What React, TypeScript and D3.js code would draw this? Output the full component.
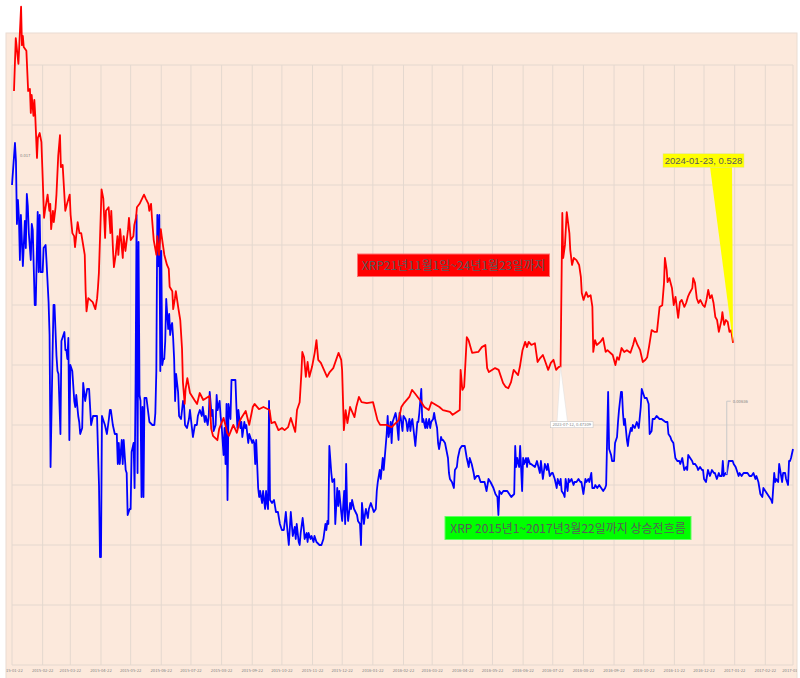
import React from "react";
import * as d3 from "d3";

const tickLabels = [
  "2015-01-22","2015-02-22","2015-03-22","2015-04-22","2015-05-22","2015-06-22","2015-07-22","2015-08-22","2015-09-22",
  "2015-10-22","2015-11-22","2015-12-22","2016-01-22","2016-02-22","2016-03-22","2016-04-22","2016-05-22","2016-06-22",
  "2016-07-22","2016-08-22","2016-09-22","2016-10-22","2016-11-22","2016-12-22","2017-01-22","2017-02-22","2017-03-22",
];

// XRP 2021-11-01 ~ 2024-01-23 (USD)
const redSeries: [string, number][] = [
  ["2021-11-01",1.104],["2021-11-03",1.225],["2021-11-06",1.166],["2021-11-09",1.297],["2021-11-10",1.209],["2021-11-11",1.230],
  ["2021-11-12",1.205],["2021-11-15",1.196],["2021-11-17",1.104],["2021-11-19",1.109],["2021-11-20",1.054],["2021-11-21",1.095],
  ["2021-11-23",1.047],["2021-11-24",1.084],["2021-11-25",1.049],["2021-11-27",0.951],["2021-11-28",0.997],["2021-11-30",1.008],
  ["2021-12-02",0.987],["2021-12-03",0.930],["2021-12-05",0.814],["2021-12-06",0.830],["2021-12-09",0.867],["2021-12-11",0.830],
  ["2021-12-12",0.846],["2021-12-13",0.788],["2021-12-15",0.830],["2021-12-16",0.804],["2021-12-18",0.838],["2021-12-19",0.867],
  ["2021-12-21",0.955],["2021-12-23",1.003],["2021-12-24",0.930],["2021-12-26",0.935],["2021-12-29",0.830],["2021-12-31",0.846],
  ["2022-01-03",0.867],["2022-01-04",0.821],["2022-01-06",0.779],["2022-01-08",0.772],["2022-01-09",0.747],["2022-01-12",0.804],
  ["2022-01-14",0.779],["2022-01-16",0.779],["2022-01-18",0.754],["2022-01-20",0.729],["2022-01-21",0.646],["2022-01-22",0.600],
  ["2022-01-24",0.630],["2022-01-29",0.621],["2022-02-01",0.605],["2022-02-03",0.630],["2022-02-04",0.656],["2022-02-05",0.688],
  ["2022-02-07",0.814],["2022-02-08",0.879],["2022-02-10",0.858],["2022-02-12",0.768],["2022-02-13",0.830],["2022-02-16",0.838],
  ["2022-02-18",0.779],["2022-02-19",0.830],["2022-02-21",0.738],["2022-02-22",0.701],["2022-02-24",0.729],["2022-02-26",0.772],
  ["2022-02-27",0.729],["2022-03-01",0.788],["2022-03-04",0.722],["2022-03-05",0.772],["2022-03-07",0.738],["2022-03-10",0.788],
  ["2022-03-11",0.814],["2022-03-13",0.763],["2022-03-16",0.772],["2022-03-17",0.797],["2022-03-19",0.814],["2022-03-20",0.838],
  ["2022-03-23",0.846],["2022-03-28",0.867],["2022-03-30",0.858],["2022-04-02",0.846],["2022-04-03",0.830],["2022-04-05",0.846],
  ["2022-04-06",0.814],["2022-04-08",0.763],["2022-04-11",0.729],["2022-04-12",0.772],["2022-04-14",0.729],["2022-04-16",0.788],
  ["2022-04-17",0.772],["2022-04-20",0.729],["2022-04-23",0.706],["2022-04-25",0.697],["2022-04-26",0.656],["2022-04-29",0.646],
  ["2022-04-30",0.605],["2022-05-02",0.630],["2022-05-03",0.646],["2022-05-06",0.605],["2022-05-08",0.580],["2022-05-10",0.514],
  ["2022-05-11",0.438],["2022-05-13",0.388],["2022-05-14",0.422],["2022-05-16",0.447],["2022-05-19",0.413],["2022-05-24",0.397],
  ["2022-05-27",0.388],["2022-05-30",0.413],["2022-06-03",0.397],["2022-06-10",0.406],["2022-06-12",0.331],["2022-06-14",0.315],
  ["2022-06-19",0.305],["2022-06-21",0.331],["2022-06-26",0.356],["2022-06-28",0.340],["2022-06-30",0.322],["2022-07-02",0.315],
  ["2022-07-07",0.340],["2022-07-11",0.322],["2022-07-14",0.347],["2022-07-16",0.356],["2022-07-21",0.372],["2022-07-25",0.340],
  ["2022-07-29",0.381],["2022-07-31",0.388],["2022-08-05",0.376],["2022-08-10",0.381],["2022-08-17",0.374],["2022-08-19",0.344],
  ["2022-08-23",0.347],["2022-08-27",0.328],["2022-08-31",0.333],["2022-09-03",0.328],["2022-09-07",0.335],["2022-09-10",0.356],
  ["2022-09-15",0.324],["2022-09-17",0.374],["2022-09-20",0.392],["2022-09-22",0.459],["2022-09-23",0.507],["2022-09-25",0.495],
  ["2022-09-27",0.450],["2022-09-29",0.484],["2022-10-01",0.450],["2022-10-04",0.473],["2022-10-07",0.505],["2022-10-09",0.534],
  ["2022-10-11",0.489],["2022-10-14",0.482],["2022-10-21",0.450],["2022-10-24",0.461],["2022-10-28",0.470],["2022-11-03",0.505],
  ["2022-11-06",0.489],["2022-11-07",0.466],["2022-11-09",0.328],["2022-11-11",0.374],["2022-11-13",0.344],["2022-11-16",0.381],
  ["2022-11-21",0.358],["2022-11-23",0.381],["2022-11-26",0.404],["2022-11-29",0.392],["2022-12-05",0.390],["2022-12-12",0.392],
  ["2022-12-17",0.351],["2022-12-20",0.340],["2022-12-27",0.340],["2023-01-02",0.335],["2023-01-10",0.351],["2023-01-13",0.381],
  ["2023-01-16",0.390],["2023-01-22",0.404],["2023-01-25",0.420],["2023-01-28",0.413],["2023-02-03",0.397],["2023-02-08",0.381],
  ["2023-02-13",0.374],["2023-02-16",0.392],["2023-02-25",0.381],["2023-03-01",0.374],["2023-03-09",0.370],["2023-03-12",0.363],
  ["2023-03-20",0.374],["2023-03-21",0.466],["2023-03-23",0.420],["2023-03-25",0.427],["2023-03-28",0.541],["2023-03-30",0.534],
  ["2023-04-03",0.505],["2023-04-10",0.507],["2023-04-14",0.518],["2023-04-18",0.523],["2023-04-20",0.470],["2023-04-22",0.461],
  ["2023-04-29",0.470],["2023-05-03",0.466],["2023-05-08",0.436],["2023-05-11",0.427],["2023-05-14",0.424],["2023-05-17",0.438],
  ["2023-05-20",0.466],["2023-05-25",0.454],["2023-05-27",0.473],["2023-05-30",0.511],["2023-06-02",0.530],["2023-06-04",0.518],
  ["2023-06-06",0.530],["2023-06-09",0.523],["2023-06-13",0.527],["2023-06-16",0.484],["2023-06-19",0.493],["2023-06-22",0.500],
  ["2023-06-24",0.489],["2023-06-28",0.466],["2023-07-01",0.482],["2023-07-04",0.489],["2023-07-07",0.466],["2023-07-10",0.473],
  ["2023-07-12",0.47309],["2023-07-14",0.825],["2023-07-15",0.722],["2023-07-17",0.752],["2023-07-19",0.827],["2023-07-22",0.779],
  ["2023-07-23",0.740],["2023-07-25",0.706],["2023-07-27",0.722],["2023-07-30",0.717],["2023-08-02",0.706],["2023-08-04",0.678],
  ["2023-08-05",0.642],["2023-08-07",0.626],["2023-08-10",0.644],["2023-08-12",0.633],["2023-08-15",0.637],["2023-08-17",0.610],
  ["2023-08-18",0.507],["2023-08-20",0.534],["2023-08-22",0.523],["2023-08-26",0.530],["2023-08-29",0.539],["2023-09-01",0.507],
  ["2023-09-03",0.511],["2023-09-09",0.500],["2023-09-12",0.477],["2023-09-14",0.495],["2023-09-16",0.489],["2023-09-19",0.516],
  ["2023-09-22",0.507],["2023-09-25",0.511],["2023-09-29",0.505],["2023-10-02",0.523],["2023-10-04",0.539],["2023-10-07",0.523],
  ["2023-10-10",0.511],["2023-10-13",0.484],["2023-10-16",0.489],["2023-10-18",0.495],["2023-10-20",0.518],["2023-10-23",0.557],
  ["2023-10-26",0.553],["2023-10-29",0.553],["2023-11-01",0.610],["2023-11-04",0.614],["2023-11-06",0.665],["2023-11-07",0.722],
  ["2023-11-09",0.695],["2023-11-10",0.667],["2023-11-12",0.676],["2023-11-15",0.653],["2023-11-17",0.614],["2023-11-19",0.633],
  ["2023-11-22",0.585],["2023-11-24",0.621],["2023-11-26",0.626],["2023-11-29",0.610],["2023-12-01",0.619],["2023-12-03",0.633],
  ["2023-12-05",0.642],["2023-12-08",0.653],["2023-12-09",0.676],["2023-12-11",0.665],["2023-12-13",0.630],["2023-12-15",0.619],
  ["2023-12-17",0.626],["2023-12-20",0.614],["2023-12-22",0.610],["2023-12-24",0.626],["2023-12-26",0.649],["2023-12-28",0.630],
  ["2023-12-30",0.637],["2024-01-01",0.619],["2024-01-03",0.587],["2024-01-05",0.580],["2024-01-07",0.553],["2024-01-10",0.580],
  ["2024-01-11",0.598],["2024-01-13",0.569],["2024-01-15",0.580],["2024-01-17",0.576],["2024-01-19",0.553],["2024-01-21",0.557],
  ["2024-01-23",0.528],
];

// XRP 2015-01-22 ~ 2017-03-22 (USD)
const blueSeries: [string, number][] = [
  ["2015-01-22",0.0160],["2015-01-25",0.0174],["2015-01-26",0.0168],["2015-01-27",0.0147],["2015-01-28",0.0155],["2015-01-29",0.0149],
  ["2015-01-30",0.0135],["2015-01-31",0.0150],["2015-02-02",0.0133],["2015-02-04",0.0148],["2015-02-05",0.0139],["2015-02-06",0.0157],
  ["2015-02-07",0.0153],["2015-02-08",0.0144],["2015-02-10",0.0135],["2015-02-11",0.0147],["2015-02-12",0.0145],["2015-02-14",0.0120],
  ["2015-02-15",0.0120],["2015-02-17",0.0151],["2015-02-18",0.0131],["2015-02-19",0.0150],["2015-02-20",0.0131],["2015-02-22",0.0131],
  ["2015-02-23",0.0139],["2015-02-25",0.0140],["2015-02-26",0.0134],["2015-02-28",0.0121],["2015-03-01",0.0110],["2015-03-02",0.0066],
  ["2015-03-04",0.0103],["2015-03-05",0.0120],["2015-03-06",0.0120],["2015-03-08",0.0103],["2015-03-09",0.0098],["2015-03-10",0.0097],
  ["2015-03-12",0.0077],["2015-03-13",0.0108],["2015-03-14",0.0109],["2015-03-16",0.0111],["2015-03-17",0.0105],["2015-03-18",0.0105],
  ["2015-03-19",0.0102],["2015-03-20",0.0109],["2015-03-21",0.0075],["2015-03-22",0.0100],["2015-03-23",0.0099],["2015-03-24",0.0098],
  ["2015-03-26",0.0088],["2015-03-27",0.0086],["2015-03-28",0.0090],["2015-03-30",0.0083],["2015-03-31",0.0081],["2015-04-01",0.0077],
  ["2015-04-03",0.0079],["2015-04-04",0.0094],["2015-04-06",0.0088],["2015-04-07",0.0090],["2015-04-08",0.0092],["2015-04-10",0.0092],
  ["2015-04-12",0.0080],["2015-04-14",0.0083],["2015-04-18",0.0083],["2015-04-20",0.0060],["2015-04-21",0.0036],["2015-04-22",0.0036],
  ["2015-04-23",0.0083],["2015-04-24",0.0082],["2015-04-26",0.0080],["2015-04-28",0.0077],["2015-04-30",0.0082],["2015-05-01",0.0085],
  ["2015-05-02",0.0085],["2015-05-04",0.0080],["2015-05-06",0.0077],["2015-05-08",0.0077],["2015-05-09",0.0067],["2015-05-10",0.0074],
  ["2015-05-11",0.0067],["2015-05-13",0.0075],["2015-05-14",0.0067],["2015-05-15",0.0075],["2015-05-17",0.0065],["2015-05-18",0.0064],
  ["2015-05-19",0.0050],["2015-05-21",0.0052],["2015-05-22",0.0052],["2015-05-23",0.0071],["2015-05-25",0.0074],["2015-05-26",0.0059],
  ["2015-05-27",0.0094],["2015-05-28",0.0150],["2015-05-29",0.0064],["2015-05-30",0.0141],["2015-05-31",0.0090],["2015-06-01",0.0088],
  ["2015-06-02",0.0056],["2015-06-03",0.0086],["2015-06-04",0.0056],["2015-06-05",0.0089],["2015-06-07",0.0089],["2015-06-10",0.0081],
  ["2015-06-13",0.0080],["2015-06-15",0.0080],["2015-06-16",0.0084],["2015-06-17",0.0098],["2015-06-18",0.0150],["2015-06-19",0.0133],
  ["2015-06-20",0.0150],["2015-06-21",0.0098],["2015-06-22",0.0138],["2015-06-23",0.0100],["2015-06-24",0.0102],["2015-06-25",0.0102],
  ["2015-06-26",0.0108],["2015-06-27",0.0122],["2015-06-28",0.0117],["2015-06-29",0.0112],["2015-06-30",0.0117],["2015-07-01",0.0110],
  ["2015-07-02",0.0113],["2015-07-03",0.0114],["2015-07-04",0.0109],["2015-07-05",0.0102],["2015-07-06",0.0088],["2015-07-07",0.0097],
  ["2015-07-09",0.0091],["2015-07-10",0.0083],["2015-07-12",0.0082],["2015-07-14",0.0088],["2015-07-15",0.0087],["2015-07-16",0.0080],
  ["2015-07-18",0.0079],["2015-07-20",0.0082],["2015-07-21",0.0085],["2015-07-23",0.0079],["2015-07-24",0.0076],["2015-07-26",0.0080],
  ["2015-07-28",0.0080],["2015-07-29",0.0083],["2015-07-31",0.0085],["2015-08-02",0.0083],["2015-08-03",0.0086],["2015-08-05",0.0081],
  ["2015-08-06",0.0083],["2015-08-08",0.0080],["2015-08-09",0.0083],["2015-08-10",0.0091],["2015-08-12",0.0083],["2015-08-13",0.0085],
  ["2015-08-14",0.0078],["2015-08-16",0.0080],["2015-08-17",0.0090],["2015-08-18",0.0085],["2015-08-20",0.0088],["2015-08-21",0.0083],
  ["2015-08-22",0.0080],["2015-08-24",0.0070],["2015-08-25",0.0079],["2015-08-26",0.0067],["2015-08-27",0.0087],["2015-08-28",0.0055],
  ["2015-08-29",0.0087],["2015-08-31",0.0082],["2015-09-01",0.0095],["2015-09-05",0.0095],["2015-09-06",0.0086],["2015-09-07",0.0079],
  ["2015-09-08",0.0085],["2015-09-10",0.0079],["2015-09-11",0.0081],["2015-09-12",0.0076],["2015-09-14",0.0081],["2015-09-15",0.0079],
  ["2015-09-16",0.0080],["2015-09-18",0.0074],["2015-09-19",0.0077],["2015-09-20",0.0076],["2015-09-22",0.0074],["2015-09-23",0.0075],
  ["2015-09-24",0.0074],["2015-09-25",0.0067],["2015-09-26",0.0075],["2015-09-28",0.0059],["2015-09-29",0.0056],["2015-09-30",0.0058],
  ["2015-10-02",0.0054],["2015-10-03",0.0058],["2015-10-05",0.0052],["2015-10-06",0.0058],["2015-10-07",0.0054],["2015-10-08",0.0052],
  ["2015-10-09",0.0088],["2015-10-10",0.0055],["2015-10-12",0.0054],["2015-10-14",0.0055],["2015-10-16",0.0051],["2015-10-18",0.0051],
  ["2015-10-20",0.0047],["2015-10-22",0.0045],["2015-10-24",0.0045],["2015-10-26",0.0051],["2015-10-27",0.0047],["2015-10-29",0.0040],
  ["2015-10-31",0.0051],["2015-11-01",0.0047],["2015-11-02",0.0043],["2015-11-04",0.0046],["2015-11-05",0.0042],["2015-11-06",0.0047],
  ["2015-11-08",0.0041],["2015-11-09",0.0040],["2015-11-10",0.0044],["2015-11-12",0.0049],["2015-11-13",0.0046],["2015-11-14",0.0042],
  ["2015-11-16",0.0044],["2015-11-17",0.0041],["2015-11-18",0.0044],["2015-11-20",0.0042],["2015-11-21",0.0043],["2015-11-23",0.0041],
  ["2015-11-24",0.0043],["2015-11-26",0.0041],["2015-11-29",0.0040],["2015-12-01",0.0040],["2015-12-03",0.0042],["2015-12-05",0.0047],
  ["2015-12-06",0.0045],["2015-12-07",0.0048],["2015-12-08",0.0047],["2015-12-09",0.0073],["2015-12-11",0.0064],["2015-12-12",0.0061],
  ["2015-12-14",0.0062],["2015-12-15",0.0047],["2015-12-17",0.0059],["2015-12-18",0.0053],["2015-12-19",0.0058],["2015-12-21",0.0051],
  ["2015-12-22",0.0048],["2015-12-24",0.0058],["2015-12-25",0.0047],["2015-12-26",0.0067],["2015-12-27",0.0052],["2015-12-28",0.0048],
  ["2015-12-30",0.0054],["2015-12-31",0.0052],["2016-01-01",0.0055],["2016-01-03",0.0052],["2016-01-06",0.0050],["2016-01-07",0.0048],
  ["2016-01-09",0.0047],["2016-01-10",0.0040],["2016-01-11",0.0054],["2016-01-13",0.0047],["2016-01-14",0.0050],["2016-01-15",0.0052],
  ["2016-01-17",0.0049],["2016-01-18",0.0052],["2016-01-20",0.0054],["2016-01-21",0.0053],["2016-01-23",0.0051],["2016-01-25",0.0052],
  ["2016-01-26",0.0058],["2016-01-27",0.0061],["2016-01-29",0.0065],["2016-01-30",0.0062],["2016-02-01",0.0069],["2016-02-02",0.0065],
  ["2016-02-03",0.0069],["2016-02-05",0.0077],["2016-02-06",0.0083],["2016-02-07",0.0076],["2016-02-09",0.0081],["2016-02-10",0.0074],
  ["2016-02-11",0.0081],["2016-02-13",0.0083],["2016-02-14",0.0084],["2016-02-15",0.0082],["2016-02-17",0.0075],["2016-02-18",0.0084],
  ["2016-02-19",0.0083],["2016-02-21",0.0078],["2016-02-22",0.0083],["2016-02-24",0.0082],["2016-02-25",0.0081],["2016-02-26",0.0078],
  ["2016-02-28",0.0082],["2016-02-29",0.0078],["2016-03-01",0.0081],["2016-03-02",0.0082],["2016-03-04",0.0076],["2016-03-05",0.0073],
  ["2016-03-07",0.0081],["2016-03-08",0.0081],["2016-03-09",0.0084],["2016-03-11",0.0092],["2016-03-12",0.0081],["2016-03-13",0.0082],
  ["2016-03-15",0.0079],["2016-03-16",0.0082],["2016-03-17",0.0079],["2016-03-19",0.0082],["2016-03-20",0.0079],["2016-03-21",0.0081],
  ["2016-03-23",0.0082],["2016-03-24",0.0084],["2016-03-25",0.0082],["2016-03-27",0.0079],["2016-03-28",0.0074],["2016-03-29",0.0072],
  ["2016-03-31",0.0076],["2016-04-01",0.0075],["2016-04-02",0.0075],["2016-04-04",0.0074],["2016-04-07",0.0069],["2016-04-08",0.0064],
  ["2016-04-09",0.0062],["2016-04-11",0.0061],["2016-04-13",0.0059],["2016-04-14",0.0065],["2016-04-16",0.0066],["2016-04-17",0.0069],
  ["2016-04-19",0.0072],["2016-04-21",0.0073],["2016-04-24",0.0073],["2016-04-26",0.0069],["2016-04-28",0.0066],["2016-04-29",0.0069],
  ["2016-05-01",0.0067],["2016-05-03",0.0064],["2016-05-04",0.0062],["2016-05-06",0.0063],["2016-05-08",0.0063],["2016-05-10",0.0061],
  ["2016-05-12",0.0061],["2016-05-14",0.0061],["2016-05-16",0.0058],["2016-05-18",0.0062],["2016-05-20",0.0061],["2016-05-23",0.0059],
  ["2016-05-25",0.0057],["2016-05-27",0.0056],["2016-05-28",0.0050],["2016-05-29",0.0058],["2016-05-31",0.0057],["2016-06-02",0.0058],
  ["2016-06-04",0.0058],["2016-06-06",0.0058],["2016-06-08",0.0057],["2016-06-10",0.0056],["2016-06-13",0.0057],["2016-06-14",0.0073],
  ["2016-06-15",0.0066],["2016-06-16",0.0069],["2016-06-18",0.0066],["2016-06-19",0.0073],["2016-06-21",0.0058],["2016-06-22",0.0069],
  ["2016-06-23",0.0067],["2016-06-25",0.0069],["2016-06-26",0.0066],["2016-06-27",0.0069],["2016-06-29",0.0067],["2016-06-30",0.0067],
  ["2016-07-04",0.0066],["2016-07-06",0.0068],["2016-07-09",0.0064],["2016-07-10",0.0068],["2016-07-12",0.0062],["2016-07-14",0.0067],
  ["2016-07-16",0.0065],["2016-07-17",0.0067],["2016-07-19",0.0063],["2016-07-21",0.0064],["2016-07-22",0.0064],["2016-07-24",0.0062],
  ["2016-07-26",0.0059],["2016-07-27",0.0062],["2016-07-29",0.0060],["2016-07-30",0.0062],["2016-07-31",0.0058],["2016-08-02",0.0057],
  ["2016-08-03",0.0056],["2016-08-04",0.0062],["2016-08-06",0.0058],["2016-08-07",0.0062],["2016-08-08",0.0061],["2016-08-10",0.0062],
  ["2016-08-12",0.0060],["2016-08-13",0.0061],["2016-08-15",0.0061],["2016-08-17",0.0062],["2016-08-19",0.0061],["2016-08-20",0.0061],
  ["2016-08-22",0.0057],["2016-08-24",0.0062],["2016-08-25",0.0061],["2016-08-27",0.0062],["2016-08-28",0.0061],["2016-08-30",0.0064],
  ["2016-08-31",0.0059],["2016-09-02",0.0059],["2016-09-03",0.0060],["2016-09-05",0.0059],["2016-09-07",0.0060],["2016-09-09",0.0059],
  ["2016-09-11",0.0058],["2016-09-13",0.0059],["2016-09-14",0.0060],["2016-09-16",0.0091],["2016-09-17",0.0072],["2016-09-19",0.0070],
  ["2016-09-20",0.0068],["2016-09-22",0.0068],["2016-09-23",0.0074],["2016-09-25",0.0076],["2016-09-26",0.0081],["2016-09-27",0.0085],
  ["2016-09-29",0.0091],["2016-09-30",0.0091],["2016-10-01",0.0084],["2016-10-02",0.0080],["2016-10-03",0.0082],["2016-10-05",0.0075],
  ["2016-10-06",0.0073],["2016-10-07",0.0076],["2016-10-09",0.0079],["2016-10-10",0.0078],["2016-10-11",0.0080],["2016-10-13",0.0079],
  ["2016-10-15",0.0081],["2016-10-17",0.0079],["2016-10-19",0.0086],["2016-10-20",0.0092],["2016-10-22",0.0090],["2016-10-23",0.0089],
  ["2016-10-25",0.0089],["2016-10-27",0.0087],["2016-10-28",0.0077],["2016-10-30",0.0078],["2016-10-31",0.0082],["2016-11-02",0.0082],
  ["2016-11-04",0.0083],["2016-11-07",0.0082],["2016-11-09",0.0082],["2016-11-13",0.0081],["2016-11-15",0.0081],["2016-11-16",0.0077],
  ["2016-11-18",0.0076],["2016-11-19",0.0075],["2016-11-21",0.0074],["2016-11-23",0.0069],["2016-11-25",0.0068],["2016-11-27",0.0068],
  ["2016-11-28",0.0067],["2016-11-30",0.0069],["2016-12-01",0.0067],["2016-12-02",0.0065],["2016-12-04",0.0066],["2016-12-05",0.0065],
  ["2016-12-06",0.0070],["2016-12-08",0.0069],["2016-12-10",0.0068],["2016-12-11",0.0067],["2016-12-13",0.0067],["2016-12-15",0.0066],
  ["2016-12-16",0.0065],["2016-12-18",0.0066],["2016-12-20",0.0065],["2016-12-21",0.0065],["2016-12-22",0.0062],["2016-12-24",0.0061],
  ["2016-12-26",0.0065],["2016-12-27",0.0064],["2016-12-28",0.0063],["2016-12-30",0.0065],["2017-01-01",0.0064],["2017-01-02",0.0064],
  ["2017-01-04",0.0062],["2017-01-06",0.0064],["2017-01-07",0.0063],["2017-01-09",0.0063],["2017-01-10",0.0068],["2017-01-11",0.0063],
  ["2017-01-13",0.0064],["2017-01-14",0.00636],["2017-01-16",0.0068],["2017-01-18",0.0068],["2017-01-20",0.0068],["2017-01-21",0.0067],
  ["2017-01-23",0.0066],["2017-01-24",0.0065],["2017-01-26",0.0063],["2017-01-27",0.0064],["2017-01-29",0.0063],["2017-01-31",0.0064],
  ["2017-02-02",0.0064],["2017-02-04",0.0064],["2017-02-06",0.0063],["2017-02-08",0.0063],["2017-02-10",0.0064],["2017-02-12",0.0062],
  ["2017-02-13",0.0063],["2017-02-15",0.0061],["2017-02-17",0.0057],["2017-02-19",0.0056],["2017-02-20",0.0059],["2017-02-22",0.0058],
  ["2017-02-24",0.0057],["2017-02-26",0.0056],["2017-02-28",0.0055],["2017-03-01",0.0054],["2017-03-03",0.0064],["2017-03-04",0.0061],
  ["2017-03-05",0.0062],["2017-03-07",0.0061],["2017-03-08",0.0067],["2017-03-10",0.0063],["2017-03-11",0.0061],["2017-03-12",0.0064],
  ["2017-03-14",0.0064],["2017-03-15",0.0062],["2017-03-17",0.0060],["2017-03-18",0.0068],["2017-03-19",0.0068],["2017-03-20",0.0069],
  ["2017-03-22",0.0072],
];

const redLabel = "XRP21년11월1일~24년1월23일까지";
const greenLabel = "XRP 2015년1~2017년3월22일까지  상승전흐름";
const endCallout = { date: "2024-01-23", value: 0.528, text: "2024-01-23, 0.528" };
const jumpCallout = { date: "2023-07-12", value: 0.47309, text: "2023-07-12, 0.47309" };
const blueCallout = { date: "2017-01-14", value: 0.00636, text: "0.00636" };
const peakLabel = { date: "2015-01-30", value: 0.017, text: "0.017" };

const parse = d3.utcParse("%Y-%m-%d");
const d = (s: string) => parse(s) as Date;

export default function App() {
  const W = 800, H = 678;
  const xBlue = d3.scaleUtc().domain([d("2015-01-22"), d("2017-03-22")]).range([12, 793]);
  const xRed = d3.scaleUtc().domain([d("2021-11-01"), d("2024-01-23")]).range([14, 733]);
  const yBlue = d3.scaleLinear().domain([0, 0.02]).range([665, 65]);
  const yRed = d3.scaleLinear().domain([0, 1.3]).range([573.5, 5.4]);

  const blueLine = d3.line<[string, number]>().x((p) => xBlue(d(p[0]))).y((p) => yBlue(p[1]));
  const redLine = d3.line<[string, number]>().x((p) => xRed(d(p[0]))).y((p) => yRed(p[1]));

  const gridColor = "#e4d8cf";
  const textColor = "#595959";
  const font = "'Noto Sans CJK KR', 'Noto Sans', sans-serif";

  const ex = xRed(d(endCallout.date)), ey = yRed(endCallout.value);
  const jx = xRed(d(jumpCallout.date)), jy = yRed(jumpCallout.value);
  const bx = xBlue(d(blueCallout.date)), by = yBlue(blueCallout.value);
  const px = xBlue(d(peakLabel.date)), py = yBlue(peakLabel.value);

  return (
    <svg width={W} height={H} style={{ position: "absolute", left: 0, top: 0, display: "block" }} fontFamily={font}>
      <defs>
        <clipPath id="areaClip">
          <rect x={6} y={33} width={791} height={645} />
        </clipPath>
      </defs>
      <rect x={0} y={0} width={W} height={H} fill="#ffffff" />
      <rect x={6} y={33} width={791} height={650} fill="#fce9dc" stroke="#eadcd2" strokeWidth={1} />
      {yBlue.ticks(10).map((t) => (
        <line key={"h" + t} x1={xBlue.range()[0]} x2={xBlue.range()[1]} y1={yBlue(t)} y2={yBlue(t)} stroke={gridColor} strokeWidth={1} />
      ))}
      {tickLabels.map((t) => (
        <line key={"v" + t} x1={xBlue(d(t))} x2={xBlue(d(t))} y1={yBlue.range()[1]} y2={yBlue.range()[0]} stroke={gridColor} strokeWidth={1} />
      ))}
      <g clipPath="url(#areaClip)">
        {tickLabels.map((t) => (
          <text key={"l" + t} x={xBlue(d(t))} y={672} fontSize={4.2} fill="#7f7f7f" textAnchor="middle">{t}</text>
        ))}
      </g>
      <path d={blueLine(blueSeries) || ""} fill="none" stroke="#0000ff" strokeWidth={1.8} strokeLinejoin="round" />
      <path d={redLine(redSeries) || ""} fill="none" stroke="#ff0000" strokeWidth={1.8} strokeLinejoin="round" />

      {/* peak label */}
      <text x={px} y={py + 1.5} fontSize={4.2} fill="#7f7f7f">{peakLabel.text}</text>

      {/* blue callout */}
      <line x1={bx} x2={bx} y1={by} y2={by - 73} stroke="#c8c8c8" strokeWidth={1} />
      <line x1={bx} x2={bx + 4} y1={by - 73} y2={by - 73} stroke="#c8c8c8" strokeWidth={1} />
      <text x={bx + 6} y={by - 71} fontSize={4.2} fill="#7f7f7f">{blueCallout.text}</text>

      {/* jump callout (white) */}
      <polygon points={`${jx},${jy} ${jx - 3.5},${jy + 55} ${jx + 7},${jy + 55}`} fill="#ffffff" stroke="#dddddd" strokeWidth={0.5} />
      <rect x={jx - 10} y={jy + 55} width={42.5} height={6} fill="#ffffff" stroke="#bfbfbf" strokeWidth={0.5} />
      <text x={jx + 11.2} y={jy + 59.5} fontSize={4.2} fill="#7f7f7f" textAnchor="middle">{jumpCallout.text}</text>

      {/* end callout (yellow) */}
      <polygon points={`${ex},${ey} ${ex - 23},${ey - 176} ${ex - 1},${ey - 176}`} fill="#ffff00" />
      <rect x={ex - 70} y={ey - 189} width={81} height={13.5} fill="#ffff00" stroke="#e0e0a0" strokeWidth={0.5} />
      <text x={ex - 29.5} y={ey - 179} fontSize={9.5} fill={textColor} textAnchor="middle" fontFamily="'Liberation Sans', 'Noto Sans', sans-serif">{endCallout.text}</text>

      {/* red label */}
      <rect x={357.5} y={254} width={192} height={22.5} fill="#ff0000" stroke="#ff7070" strokeWidth={1} />
      <text x={453.5} y={270} fontSize={12} fill={textColor} textAnchor="middle">{redLabel}</text>

      {/* green label */}
      <rect x={445} y={516.5} width={246} height={23} fill="#00ff00" stroke="#60ff60" strokeWidth={1} />
      <text x={568} y={532.5} fontSize={12} fill={textColor} textAnchor="middle">{greenLabel}</text>
    </svg>
  );
}
